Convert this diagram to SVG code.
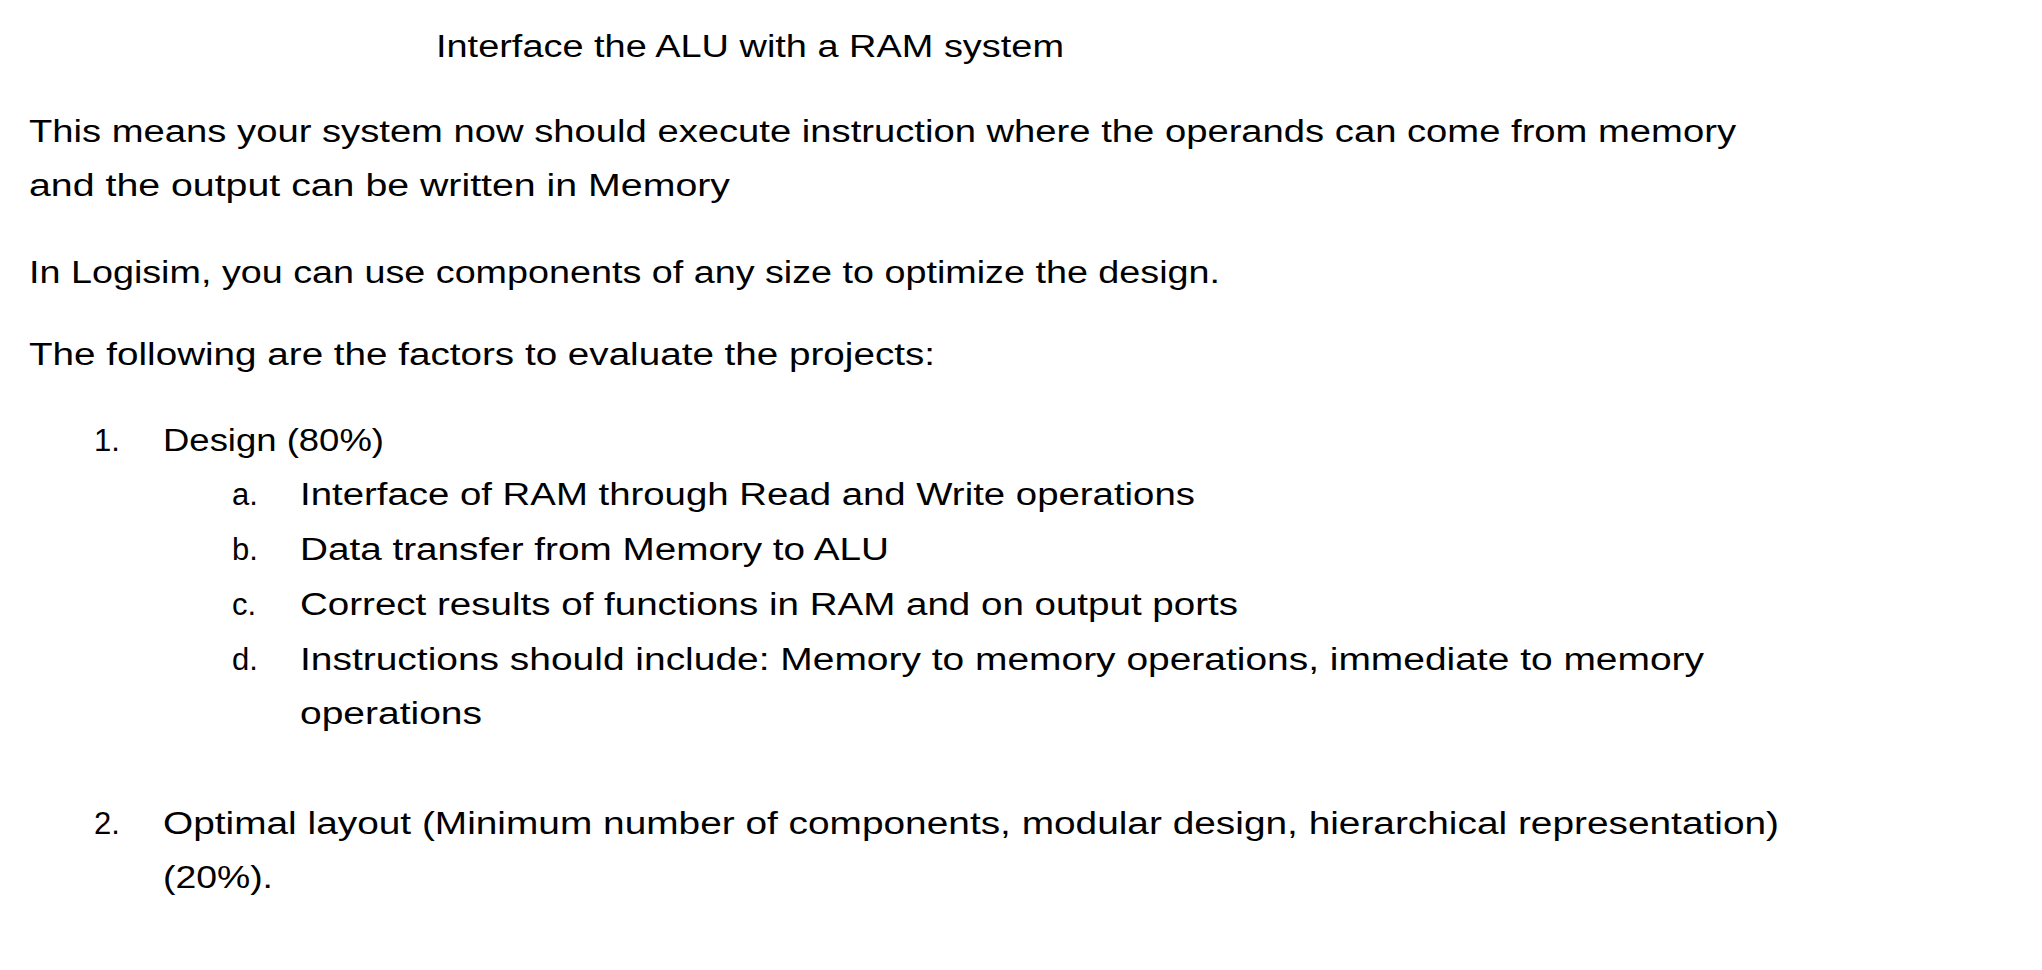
<svg xmlns="http://www.w3.org/2000/svg" width="2042" height="970" viewBox="0 0 2042 970">
<style>text{font-family:"Liberation Sans","Open Sans",sans-serif;font-size:31px;fill:#000}</style>
<rect width="2042" height="970" fill="#fff"/>
<g id="content">
<text x="436" y="57" textLength="628" lengthAdjust="spacingAndGlyphs">Interface the ALU with a RAM system</text>
<text x="29" y="142" textLength="1707" lengthAdjust="spacingAndGlyphs">This means your system now should execute instruction where the operands can come from memory</text>
<text x="29" y="196" textLength="701" lengthAdjust="spacingAndGlyphs">and the output can be written in Memory</text>
<text x="29" y="283" textLength="1191" lengthAdjust="spacingAndGlyphs">In Logisim, you can use components of any size to optimize the design.</text>
<text x="29" y="365" textLength="906" lengthAdjust="spacingAndGlyphs">The following are the factors to evaluate the projects:</text>
<text x="94" y="451">1.</text>
<text x="163" y="451" textLength="221" lengthAdjust="spacingAndGlyphs">Design (80%)</text>
<text x="232" y="505">a.</text>
<text x="300" y="505" textLength="895" lengthAdjust="spacingAndGlyphs">Interface of RAM through Read and Write operations</text>
<text x="232" y="560">b.</text>
<text x="300" y="560" textLength="589" lengthAdjust="spacingAndGlyphs">Data transfer from Memory to ALU</text>
<text x="232" y="615">c.</text>
<text x="300" y="615" textLength="938" lengthAdjust="spacingAndGlyphs">Correct results of functions in RAM and on output ports</text>
<text x="232" y="670">d.</text>
<text x="300" y="670" textLength="1404" lengthAdjust="spacingAndGlyphs">Instructions should include: Memory to memory operations, immediate to memory</text>
<text x="300" y="724" textLength="182" lengthAdjust="spacingAndGlyphs">operations</text>
<text x="94" y="834">2.</text>
<text x="163" y="834" textLength="1616" lengthAdjust="spacingAndGlyphs">Optimal layout (Minimum number of components, modular design, hierarchical representation)</text>
<text x="163" y="888" textLength="110" lengthAdjust="spacingAndGlyphs">(20%).</text>
</g>
</svg>
